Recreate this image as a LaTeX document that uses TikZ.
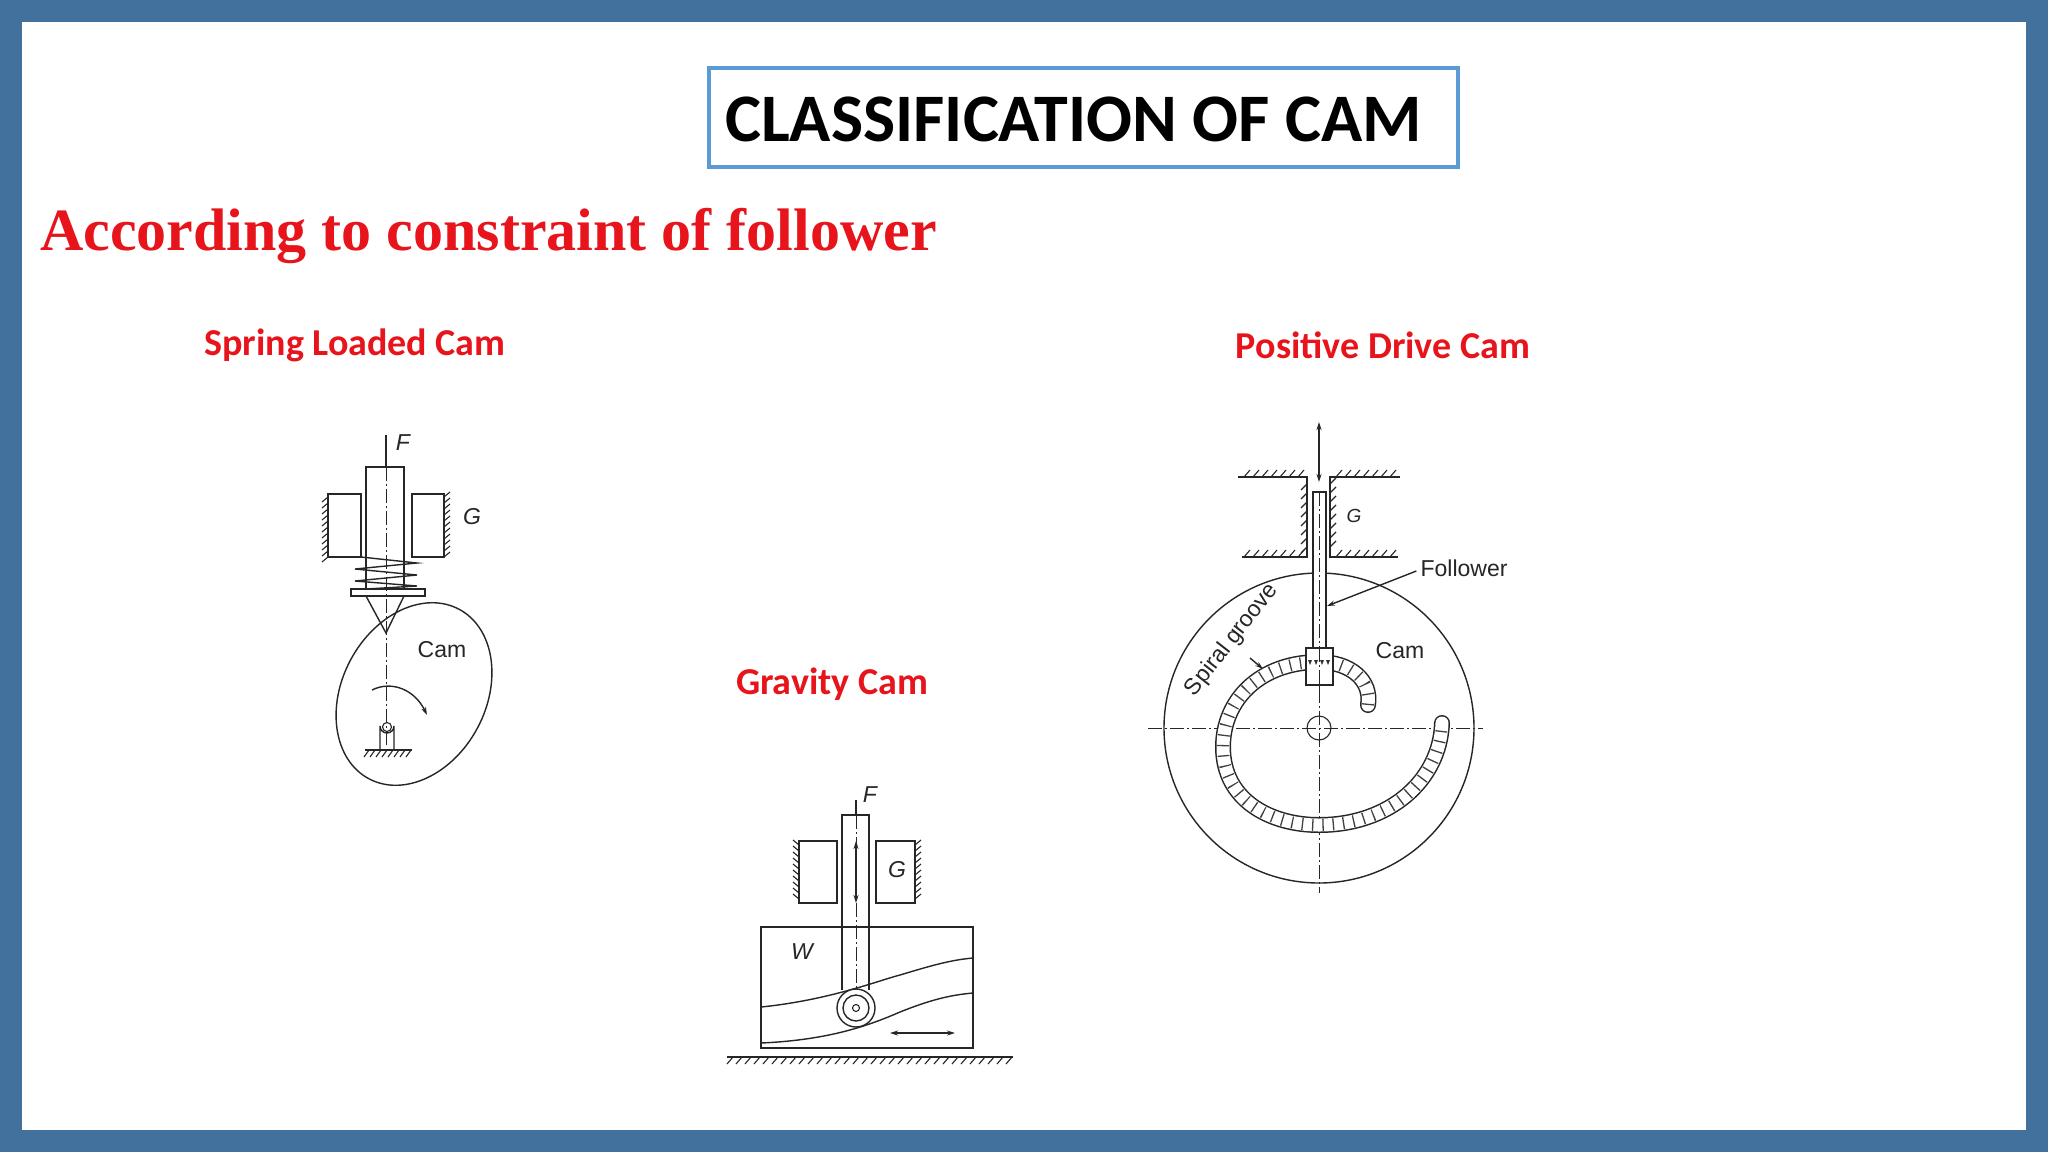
\documentclass[tikz,border=0pt]{standalone}
\usepackage{fontspec}
\setmainfont{Liberation Serif}
\setsansfont{Liberation Sans}
\newfontfamily\calib{Carlito}
\usetikzlibrary{arrows.meta}
\definecolor{frameblue}{HTML}{41719C}
\definecolor{boxblue}{HTML}{5B9BD5}
\definecolor{myred}{HTML}{E8141B}
\tikzset{
  ln/.style={line width=1.4pt,black!85},
  thin/.style={line width=1.1pt,black!85},
  axis/.style={line width=1pt,black!85,dash pattern=on 14pt off 3pt on 2pt off 3pt},
  lbl/.style={font=\sffamily\fontsize{23}{25}\selectfont,text=black!85,inner sep=0},
  ilbl/.style={font=\sffamily\itshape\fontsize{23}{25}\selectfont,text=black!85,inner sep=0},
  head/.style={font=\calib\bfseries\fontsize{38}{41}\selectfont,text=myred,inner sep=0},
  tip/.style={-{Stealth[length=8pt,width=5pt]}},
  dtip/.style={{Stealth[length=8pt,width=5pt]}-{Stealth[length=8pt,width=5pt]}},
}
\begin{document}
\begin{tikzpicture}[x=1pt,y=-1pt]
\useasboundingbox (0,0) rectangle (2048,1152);
\fill[frameblue] (0,0) rectangle (2048,1152);
\fill[white] (22,22) rectangle (2026,1130);
% title
\node[draw=boxblue,line width=3.5pt,minimum width=749pt,minimum height=99pt,inner sep=0] (titlebox) at (1083.5,117.5) {};
\node[font=\calib\bfseries\fontsize{68}{72}\selectfont,inner sep=0,anchor=west] (title) at (725,119) {CLASSIFICATION OF CAM};
\node[font=\bfseries\fontsize{60}{64}\selectfont,text=myred,inner sep=0,anchor=west] (sub) at (40,236) {According to constraint of follower};
\node[head] (h1) at (355,345) {Spring Loaded Cam};
\node[head] (h2) at (1383,345) {Positive Drive Cam};
\node[head] (h3) at (832,684) {Gravity Cam};

%% ---------- Spring loaded cam ----------
\draw[ln,rotate around={62:(414,694)}] (414,694) ellipse (96pt and 72pt);
\draw[ln] (386,435) -- (386,467);
\draw[axis] (386,467) -- (386,745);
\node[ilbl] (sF) at (403,443) {F};
\draw[ln] (366,589) -- (366,467) -- (404,467) -- (404,589);
\draw[ln] (361,557) -- (328,557) -- (328,494) -- (361,494) -- cycle;
\draw[ln] (412,557) -- (444,557) -- (444,494) -- (412,494) -- cycle;
\foreach \y in {497,503,...,557} {\draw[thin] (328,\y) -- (322,\y+5); \draw[thin] (444,\y) -- (450,\y-5);}
\node[ilbl] (sG) at (472,517) {G};
\draw[ln] (361,557) -- (417,563) -- (355,569) -- (417,575) -- (355,581) -- (417,586) -- (366,589);
\draw[ln] (351,589) rectangle (425,596);
\draw[ln] (366,596) -- (386,633) -- (404,596);
\node[lbl] (sCam) at (442,650) {Cam};
\draw[ln,tip] (372,690) .. controls (392,680) and (415,690) .. (427,715);
\draw[ln] (380,750) -- (380,726) arc (180:0:7) -- (394,750);
\draw[thin] (387,727) circle (4.5);
\draw[ln] (365,750) -- (412,750);
\foreach \x in {369,375,...,411} \draw[thin] (\x,750) -- (\x-5,757);

%% ---------- Gravity cam ----------
\draw[ln] (761,927) rectangle (973,1048);
\node[ilbl] (gW) at (802,952) {W};
\draw[ln] (761,1007) .. controls (830,1000) and (880,980) .. (900,975) .. controls (930,966) and (950,960) .. (973,958);
\draw[ln] (761,1043) .. controls (830,1040) and (870,1025) .. (900,1012) .. controls (930,1000) and (950,995) .. (973,993);
\draw[ln] (842,990) -- (842,815) -- (869,815) -- (869,990);
\draw[ln] (856,800) -- (856,815);
\draw[axis] (856,815) -- (856,1017);
\node[ilbl] (gF) at (870,795) {F};
\draw[ln,dtip] (856,841) -- (856,903);
\draw[ln] (799,841) rectangle (837,903);
\draw[ln] (876,841) rectangle (915,903);
\foreach \y in {845,851,...,903} {\draw[thin] (799,\y) -- (793,\y-5); \draw[thin] (915,\y) -- (921,\y-5);}
\node[ilbl] (gG) at (897,870) {G};
\fill[white] (856,1008) circle (19);
\draw[ln] (856,1008) circle (19);
\draw[ln] (856,1008) circle (13);
\draw[thin] (856,1008) circle (3.5);
\draw[ln,dtip] (890,1033) -- (955,1033);
\draw[ln] (727,1057) -- (1013,1057);
\foreach \x in {733,742,...,1012} \draw[thin] (\x,1057) -- (\x-6,1064);

%% ---------- Positive drive cam ----------
\draw[ln] (1319,728) circle (155);
\draw[thin] (1319,728) circle (12);
\draw[axis] (1148,728) -- (1483,728);
\draw[axis] (1319,557) -- (1319,893);
% spiral groove
\def\spir{(1368,705) .. controls (1372,680) and (1350,662) .. (1319,662) .. controls (1260,662) and (1223,700) .. (1223,747) .. controls (1223,800) and (1270,825) .. (1319,825) .. controls (1390,825) and (1440,780) .. (1442,723)}
\draw[line width=16pt,black!85,line cap=round] \spir;
\draw[line width=13pt,white,line cap=round] \spir;
\draw[line width=12pt,black!75,dash pattern=on 1.3pt off 9pt] \spir;
% guide
\draw[ln] (1238,477) -- (1307,477) -- (1307,557) -- (1242,557);
\draw[ln] (1400,477) -- (1330,477) -- (1330,557) -- (1398,557);
\foreach \x in {1244,1253,...,1305} {\draw[thin] (\x,477) -- (\x+6,470); \draw[thin] (\x,557) -- (\x+6,550);}
\foreach \x in {1336,1345,...,1398} {\draw[thin] (\x,477) -- (\x+6,470); \draw[thin] (\x,557) -- (\x+6,550);}
\foreach \y in {484,493,...,555} {\draw[thin] (1307,\y) -- (1301,\y+6); \draw[thin] (1330,\y) -- (1336,\y-6);}
\node[ilbl,font=\sffamily\itshape\fontsize{19}{21}\selectfont] (pG) at (1354,516) {G};
\draw[ln,dtip] (1319,422) -- (1319,482);
% follower
\fill[white] (1313,492) rectangle (1326,675);
\draw[ln] (1313,675) -- (1313,492) -- (1326,492) -- (1326,675);
\draw[axis] (1319,492) -- (1319,690);
\fill[white] (1306,648) rectangle (1333,685);
\draw[ln] (1306,648) rectangle (1333,685);
\draw[axis] (1319,648) -- (1319,690);
\foreach \x in {1310,1316,1322,1328} \fill[black!80] (\x-2,660) -- (\x+2,660) -- (\x,665) -- cycle;
\node[lbl] (pFol) at (1464,568) {Follower};
\draw[ln,tip] (pFol.west) ++(-4,3) -- (1327,606);
\node[lbl] (pCam) at (1400,651) {Cam};
\node[lbl,rotate=52] (pSp) at (1232,640) {Spiral groove};
\draw[ln,tip] (1250,658) -- (1263,669);
\end{tikzpicture}
\end{document}
